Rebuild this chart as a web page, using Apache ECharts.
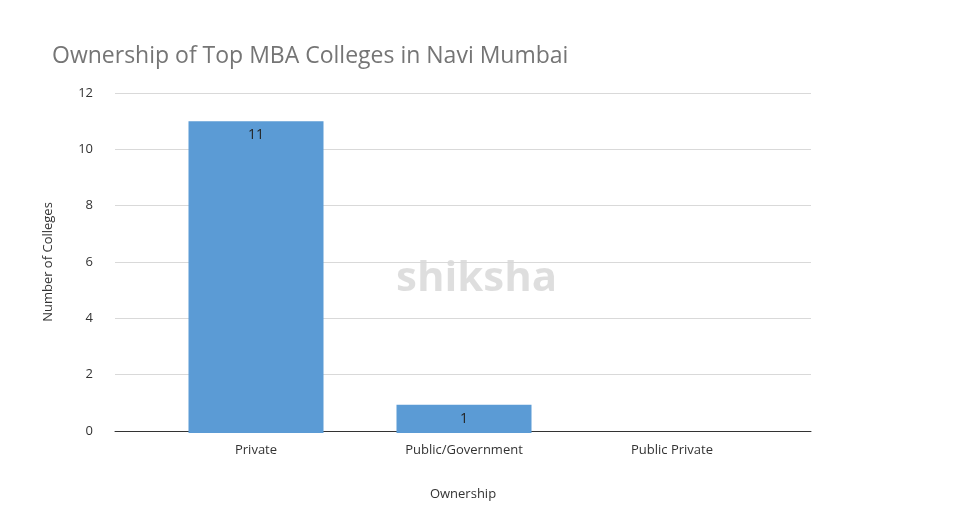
<!DOCTYPE html>
<html>
<head>
<meta charset="utf-8">
<script src="https://cdn.jsdelivr.net/npm/echarts@6/dist/echarts.min.js"></script>
<style>html,body{margin:0;padding:0;background:#fff}#chart{width:956px;height:506px}</style>
</head>
<body>
<div id="chart"></div>
<script>
var categories = ['Private', 'Public/Government', 'Public Private'];
var counts = [11, 1, 0];
var yTicks = { min: 0, max: 12, interval: 2 };

var chart = echarts.init(document.getElementById('chart'));
chart.setOption({
  animation: false,
  textStyle: { fontFamily: 'Open Sans, sans-serif' },
  title: {
    text: 'Ownership of Top MBA Colleges in Navi Mumbai',
    left: 47, top: 40,
    textStyle: { color: '#757575', fontSize: 23, fontWeight: 'normal' }
  },
  graphic: [{
    type: 'text', left: 396, top: 258,
    style: { text: 'shiksha', fill: 'rgba(0,0,0,0.13)', font: 'bold 42px Open Sans, sans-serif' }
  }],
  grid: [
    { left: 115, right: 145, top: 93, bottom: 73 },
    { left: 152, right: 180, top: 93, bottom: 73 }
  ],
  xAxis: [{
    gridIndex: 0, type: 'value', min: 0, max: 1,
    name: 'Ownership', nameLocation: 'middle', nameGap: 57,
    nameTextStyle: { color: '#333', fontSize: 13 },
    axisLine: { show: true, lineStyle: { color: '#333' } },
    axisTick: { show: false }, axisLabel: { show: false }, splitLine: { show: false }
  }, {
    gridIndex: 1, type: 'category', data: categories,
    axisLine: { show: false },
    axisTick: { show: false },
    axisLabel: { color: '#333', fontSize: 13, margin: 11 }
  }],
  yAxis: [{
    gridIndex: 0, type: 'value', min: yTicks.min, max: yTicks.max, interval: yTicks.interval,
    name: 'Number of Colleges', nameLocation: 'middle', nameGap: 60,
    nameTextStyle: { color: '#333', fontSize: 13 },
    axisLine: { show: false }, axisTick: { show: false },
    axisLabel: { color: '#333', fontSize: 13, margin: 22 },
    splitLine: { lineStyle: { color: '#d9d9d9' } }
  }, {
    gridIndex: 1, type: 'value', min: yTicks.min, max: yTicks.max, interval: yTicks.interval,
    show: false
  }],
  series: [{
    type: 'bar', data: counts, barWidth: 135, xAxisIndex: 1, yAxisIndex: 1,
    itemStyle: { color: '#5b9bd5' },
    label: {
      show: true, position: 'insideTop', color: '#222', fontSize: 14, distance: 7,
      formatter: function (p) { return p.value ? p.value : ''; }
    }
  }]
});
</script>
</body>
</html>
